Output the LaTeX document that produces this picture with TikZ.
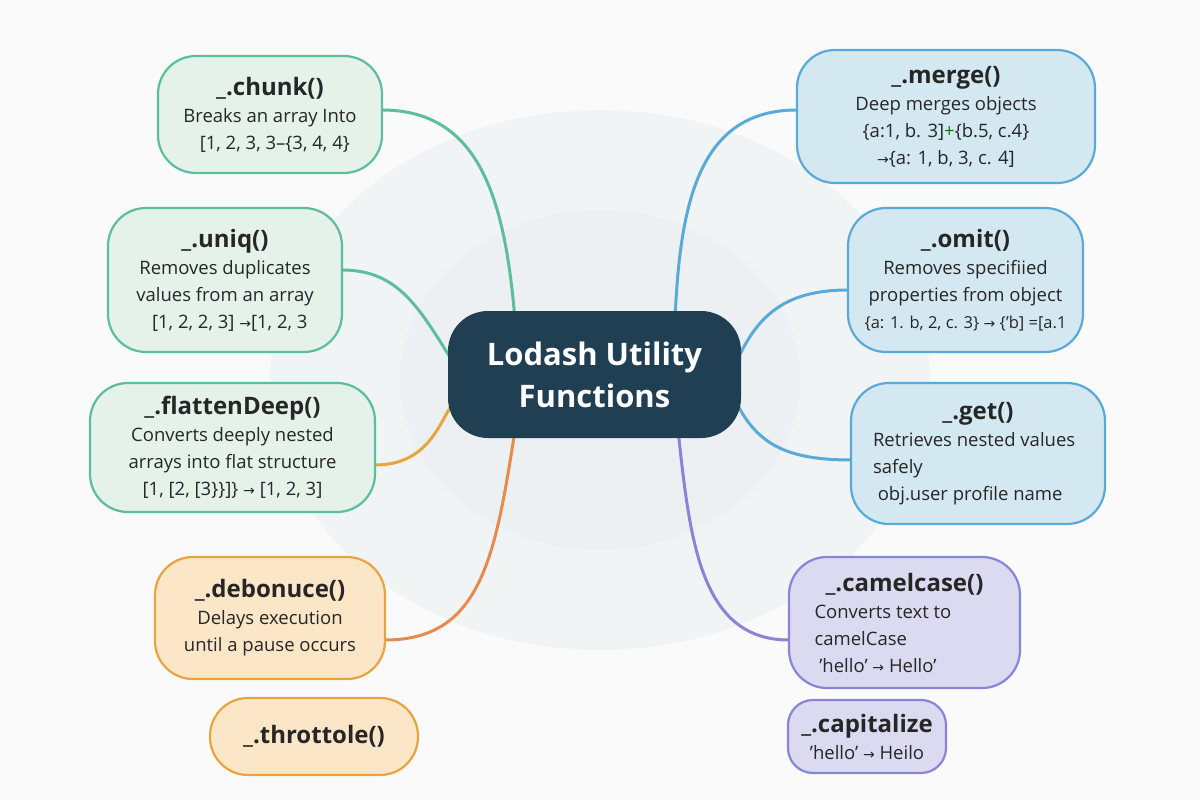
\documentclass[tikz,border=0pt]{standalone}
\usepackage{fontspec}
\setmainfont{Open Sans}
\newfontfamily\arr{DejaVu Sans}
\newcommand\mytitle[1]{{\fontsize{24}{30}\selectfont\bfseries #1}}
\newcommand\ra{{\arr\fontsize{14}{20}\selectfont→}}
\definecolor{gfill}{HTML}{E4F2EA}\definecolor{gdraw}{HTML}{5CBE9C}
\definecolor{ofill}{HTML}{FBE6C8}\definecolor{odraw}{HTML}{E8A43E}
\definecolor{bfill}{HTML}{D4E8F2}\definecolor{bdraw}{HTML}{5AAAD8}
\definecolor{pfill}{HTML}{DCDAF0}\definecolor{pdraw}{HTML}{8985D6}
\definecolor{cfill}{HTML}{213F52}\definecolor{oline}{HTML}{E88A4E}
\begin{document}
\begin{tikzpicture}[x=1pt,y=-1pt,
 box/.style={draw,line width=2.2pt,rounded corners=38pt,align=center,text=black!85,font=\fontsize{18.5}{27}\selectfont},
 gbox/.style={box,draw=gdraw,fill=gfill},
 obox/.style={box,draw=odraw,fill=ofill},
 bbox/.style={box,draw=bdraw,fill=bfill},
 pbox/.style={box,draw=pdraw,fill=pfill},
 gl/.style={line width=3pt,draw=gdraw},
 ol/.style={line width=3pt,draw=oline},
 bl/.style={line width=3pt,draw=bdraw},
 pl/.style={line width=3pt,draw=pdraw}]
\fill[gray!4] (0,0) rectangle (1200,800);
\fill[cyan!25!gray!14,opacity=0.6] (600,380) ellipse (330 and 270);
\fill[cyan!25!gray!16,opacity=0.5] (600,380) ellipse (200 and 170);
\useasboundingbox (0,0) rectangle (1200,800);
\draw[gl] (382,110) .. controls (480,110) and (505,200) .. (515,320);
\draw[gl] (342,270) .. controls (400,270) and (420,310) .. (455,365);
\draw[ol,draw=odraw] (375,465) .. controls (430,465) and (440,420) .. (455,400);
\draw[ol] (385,640) .. controls (480,640) and (495,560) .. (515,430);
\draw[bl] (797,110) .. controls (700,110) and (680,200) .. (675,320);
\draw[bl] (848,290) .. controls (780,290) and (755,320) .. (735,365);
\draw[bl] (851,460) .. controls (780,460) and (755,440) .. (735,400);
\draw[pl] (789,640) .. controls (700,640) and (690,540) .. (678,430);
\node[draw=none,fill=cfill,rounded corners=40pt,minimum width=293pt,minimum height=127pt,text=white,align=center,font=\fontsize{31}{42}\selectfont\bfseries] (c) at (594.5,374.5) {Lodash Utility\\Functions};
\node[gbox,minimum width=224pt,minimum height=117pt] (chunk) at (270,114.5) {\mytitle{\_.chunk()}\\Breaks an array Into\\\ \ [1, 2, 3, 3–\{3, 4, 4\}};
\node[gbox,minimum width=234pt,minimum height=144pt] (uniq) at (225,280) {\mytitle{\_.uniq()}\\Removes duplicates\\values from an array\\\ \ [1, 2, 2, 3] \ra[1, 2, 3};
\node[gbox,minimum width=285pt,minimum height=129pt] (flat) at (232.5,447.5) {\mytitle{\_.flattenDeep()}\\Converts deeply nested\\arrays into flat structure\\{}[1, [2, [3\}\}]\} \ra\ [1, 2, 3]};
\node[obox,minimum width=230pt,minimum height=122pt] (deb) at (270,618) {\mytitle{\_.debonuce()}\\Delays execution\\until a pause occurs};
\node[obox,minimum width=208pt,minimum height=77pt] (thr) at (314,736.5) {\mytitle{\_.throttole()}};
\node[bbox,minimum width=298pt,minimum height=133pt] (merge) at (946,116.5) {\mytitle{\_.merge()}\\Deep merges objects\\\{a:1, b. 3]{\color{green!50!black}+}\{b.5, c.4\}\\\ra\{a: 1, b, 3, c. 4]};
\node[bbox,minimum width=235pt,minimum height=144pt] (omit) at (965.5,280) {\mytitle{\_.omit()}\\Removes specifiied\\properties from object\\{\fontsize{16.5}{24}\selectfont \{a: 1. b, 2, c. 3\} \ra\ \{'b] =[a.1}};
\node[bbox,minimum width=254pt,minimum height=141pt] (get) at (978,453.5) {\mytitle{\_.get()}\\\makebox[210pt][l]{Retrieves nested values}\\\makebox[210pt][l]{safely}\\\makebox[210pt][l]{\ obj.user profile name}};
\node[pbox,minimum width=231pt,minimum height=131pt] (cam) at (904.5,622.5) {\mytitle{\_.camelcase()}\\\makebox[180pt][l]{Converts text to}\\\makebox[180pt][l]{camelCase}\\\makebox[180pt][l]{\ 'hello' \ra\ Hello'}};
\node[pbox,minimum width=158pt,minimum height=73pt,rounded corners=25pt] (cap) at (867,736.5) {\mytitle{\_.capitalize}\\'hello' \ra\ Heilo};
\end{tikzpicture}
\end{document}
